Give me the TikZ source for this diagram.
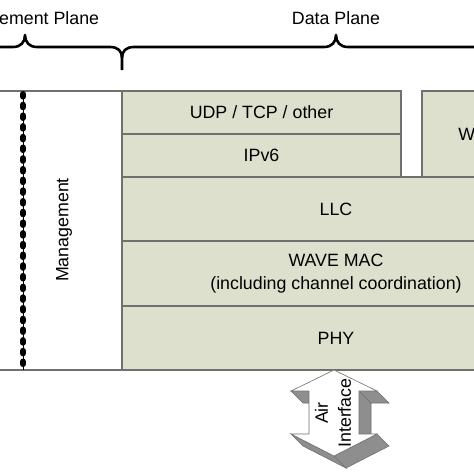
\documentclass[tikz,border=0pt]{standalone}
\usepackage{fontspec}
\setmainfont{Liberation Sans}
\definecolor{layerfill}{HTML}{DDE0CD}
\definecolor{edgegray}{HTML}{707070}
\definecolor{depthgray}{HTML}{8E8E8E}
\begin{document}
\begin{tikzpicture}[x=1pt,y=-1pt,
  txt/.style={font=\fontsize{17.8pt}{23pt}\selectfont, text=black, inner sep=0pt},
  layer/.style={txt, draw=edgegray, line width=1.2pt, fill=layerfill, align=center},
  mgmtbox/.style={draw=edgegray, line width=1.2pt, fill=white, inner sep=0pt},
  bracepath/.style={line width=2.6pt, line join=round},
  sepline/.style={line width=0.8pt},
  sepdots/.style={line width=6pt, line cap=round, dash pattern=on 2.6pt off 8.1pt},
  front/.style={fill=white, draw=edgegray, line width=0.6pt, line join=miter},
  side/.style={fill=depthgray, draw=edgegray, line width=0.6pt}
]
\useasboundingbox (0,0) rectangle (474,474);
\clip (0,0) rectangle (474,474);
\fill[white] (0,0) rectangle (474,474);

% management column
\node[mgmtbox, minimum width=150pt, minimum height=279pt] (mg) at (47,230.5) {};
\node[txt, rotate=90] (mgtext) at (64,230) {Management};

% layers
\node[layer, minimum width=279pt, minimum height=43pt] (udp) at (261.5,112.5) {UDP / TCP / other};
\node[layer, minimum width=279pt, minimum height=43pt] (ipv6) at (261.5,155.5) {IPv6};
\node[layer, minimum width=128pt, minimum height=86pt] (wsmp) at (486,134) {WSMP};
\node[layer, minimum width=428pt, minimum height=64pt] (llc) at (336,209) {LLC};
\node[layer, minimum width=428pt, minimum height=65pt] (mac) at (336,273.5) {WAVE MAC\\(including channel coordination)};
\node[layer, minimum width=428pt, minimum height=64pt] (phy) at (336,338) {PHY};

% dotted separator
\coordinate (sepT) at (23,94);
\coordinate (sepB) at (23,370);
\draw[sepline] (sepT) -- (sepB);
\draw[sepdots] (sepT) -- (sepB);

% braces
\draw[bracepath] (-80,47) -- (13,47) .. controls (21,47) and (25,42) .. (25,35)
  .. controls (25,42) and (29,47) .. (37,47) -- (110,47)
  .. controls (118,47) and (122,51) .. (122,58) -- (122,70);
\draw[bracepath] (122,58) .. controls (122,51) and (126,47) .. (134,47) -- (324,47)
  .. controls (332,47) and (336,42) .. (336,35)
  .. controls (336,42) and (340,47) .. (348,47) -- (560,47);

\node[txt, anchor=base] (mplane) at (22,24) {Management Plane};
\node[txt, anchor=base] (dplane) at (336,24) {Data Plane};

% air interface 3D double arrow
\draw[side] (291,391) -- (309,391) -- (321,403) -- (303,403) -- cycle;
\draw[side] (359,391) -- (371,403) -- (371,446) -- (359,434) -- cycle;
\draw[side] (359,391) -- (377,391) -- (389,403) -- (371,403) -- cycle;
\draw[side] (291,434) -- (334,456) -- (346,468) -- (303,446) -- cycle;
\draw[side] (334,456) -- (377,434) -- (389,446) -- (346,468) -- cycle;
\draw[front] (334,370) -- (291,391) -- (309,391) -- (309,434) -- (291,434) -- (334,456)
  -- (377,434) -- (359,434) -- (359,391) -- (377,391) -- cycle;
\node[txt, rotate=90, align=center] (air) at (333,413) {Air\\Interface};
\end{tikzpicture}
\end{document}
